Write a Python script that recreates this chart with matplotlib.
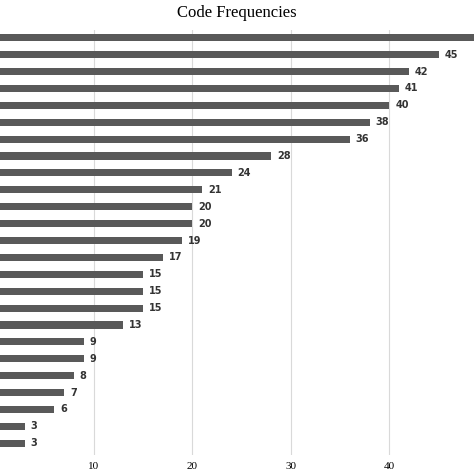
import matplotlib
matplotlib.use("Agg")
import matplotlib.pyplot as plt

values = [52, 45, 42, 41, 40, 38, 36, 28, 24, 21, 20, 20, 19, 17, 15, 15, 15, 13, 9, 9, 8, 7, 6, 3, 3]
ticks = [10, 20, 30, 40]

fig = plt.figure(figsize=(4.74, 4.74), dpi=100)
ax = fig.add_axes([0, 0.04, 1, 0.897])
pos = list(range(len(values)))
ax.barh(pos, values, height=0.42, color="#595959", zorder=2)
xmax = 48.6
for p, v in zip(pos, values):
    if v + 3 < xmax:
        ax.text(v + 0.6, p, str(v), va="center", ha="left", fontsize=7, fontweight="bold", color="#333333")
ax.set_xlim(0.5, xmax)
ax.set_ylim(len(values) - 0.3, -0.47)
ax.set_xticks(ticks)
ax.set_xticklabels([str(t) for t in ticks], fontfamily="Liberation Serif", fontsize=8)
ax.set_yticks([])
ax.tick_params(axis="x", length=0, pad=5)
ax.grid(axis="x", color="#d9d9d9", linewidth=0.8, zorder=0)
for s in ax.spines.values():
    s.set_visible(False)
fig.text(0.5, 0.973, "Code Frequencies", ha="center", va="center", fontfamily="Liberation Serif", fontsize=12)
fig.savefig("out.png", dpi=100)
